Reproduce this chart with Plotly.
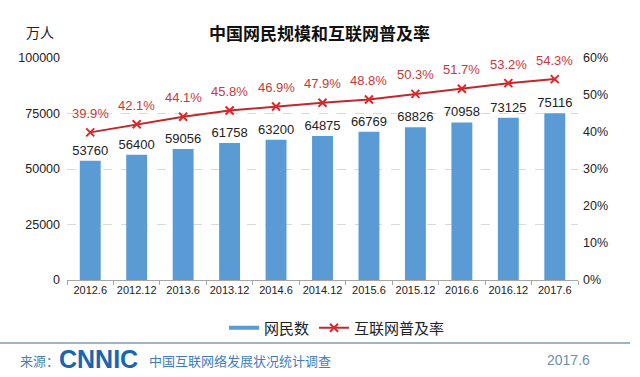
import plotly.graph_objects as go

categories = ["2012.6", "2012.12", "2013.6", "2013.12", "2014.6", "2014.12",
              "2015.6", "2015.12", "2016.6", "2016.12", "2017.6"]
users = [53760, 56400, 59056, 61758, 63200, 64875, 66769, 68826, 70958, 73125, 75116]
penetration = [39.9, 42.1, 44.1, 45.8, 46.9, 47.9, 48.8, 50.3, 51.7, 53.2, 54.3]
left_ticks = [0, 25000, 50000, 75000, 100000]
right_ticks = [0, 10, 20, 30, 40, 50, 60]

FONT = "Liberation Sans, Arial, Noto Sans CJK SC, sans-serif"
CJK = "Noto Sans CJK SC, Liberation Sans, sans-serif"
BLUE = "#5B9BD5"
LINE_RED = "#C0282E"
MARK_RED = "#E02626"
TXT_RED = "#C8383C"

fig = go.Figure()

fig.add_trace(go.Bar(
    x=categories, y=users, marker=dict(color=BLUE, line=dict(width=0)),
    text=[str(v) for v in users], textposition="outside", constraintext="none",
    textfont=dict(size=13, color="#222", family=FONT),
    cliponaxis=False, showlegend=False, yaxis="y",
))
# legend proxy for bars (line swatch as in reference)
fig.add_trace(go.Scatter(
    x=[None], y=[None], mode="lines", name="网民数",
    line=dict(color=BLUE, width=4), yaxis="y",
))
fig.add_trace(go.Scatter(
    x=categories, y=penetration, mode="lines+markers", name="互联网普及率",
    line=dict(color=LINE_RED, width=2),
    marker=dict(symbol="x-thin", size=8, line=dict(color=MARK_RED, width=2), color=MARK_RED),
    yaxis="y2", cliponaxis=False,
))

for i, p in enumerate(penetration):
    fig.add_annotation(x=i, y=p, xref="x", yref="y2", text=f"{p:.1f}%",
                       showarrow=False, yshift=19,
                       font=dict(size=13, color=TXT_RED, family=FONT))

fig.update_layout(
    width=640, height=377,
    margin=dict(l=67, r=62, t=58, b=97, autoexpand=False),
    paper_bgcolor="white", plot_bgcolor="white",
    bargap=0.55,
    xaxis=dict(type="category", showgrid=False, showline=True, linecolor="#A6A6A6",
               linewidth=1, ticks="outside", tickson="boundaries", ticklen=4,
               tickcolor="#A6A6A6", tickfont=dict(size=11, color="#222", family=FONT),
               tickangle=0, automargin=False, range=[-0.5, 10.5]),
    yaxis=dict(range=[0, 100000], tickvals=left_ticks,
               ticktext=[str(v) for v in left_ticks],
               showgrid=True, gridcolor="#D9D9D9", griddash="dash", gridwidth=1,
               zeroline=False, showline=False, ticks="", automargin=False,
               ticklabelstandoff=6,
               tickfont=dict(size=12.5, color="#222", family=FONT)),
    yaxis2=dict(range=[0, 60], tickvals=right_ticks,
                ticktext=[f"{v}%" for v in right_ticks],
                overlaying="y", side="right", showgrid=False, zeroline=False,
                showline=False, ticks="", ticklabelstandoff=4, automargin=False,
                tickfont=dict(size=12.5, color="#222", family=FONT)),
    legend=dict(orientation="h", x=(337 - 67) / 511, xanchor="center",
                y=(280 - 328) / 222, yanchor="middle",
                font=dict(size=15, color="#222", family=CJK),
                itemwidth=30, bgcolor="rgba(0,0,0,0)"),
)

def px(xp):
    return (xp - 67) / 511

def py(yp):
    return (280 - yp) / 222

fig.add_annotation(x=px(319), y=py(32), xref="paper", yref="paper",
                   text="<b>中国网民规模和互联网普及率</b>",
                   showarrow=False, xanchor="center", yanchor="middle",
                   font=dict(size=17, color="#111", family=CJK))
fig.add_annotation(x=px(40), y=py(32), xref="paper", yref="paper", text="万人",
                   showarrow=False, xanchor="center", yanchor="middle",
                   font=dict(size=14, color="#222", family=CJK))

fig.add_shape(type="line", xref="paper", yref="paper",
              x0=px(0), x1=px(630), y0=py(343), y1=py(343),
              line=dict(color="#7F9BB5", width=1.5))

fig.add_annotation(x=px(18), y=py(360), xref="paper", yref="paper", text="来源：",
                   showarrow=False, xanchor="left", yanchor="middle",
                   font=dict(size=13, color="#4F7FB0", family=CJK))
fig.add_annotation(x=px(57), y=py(359), xref="paper", yref="paper", text="<b>CNNIC</b>",
                   showarrow=False, xanchor="left", yanchor="middle",
                   font=dict(size=25, color="#1B64B0", family="Liberation Sans, Arial"))
fig.add_annotation(x=px(147), y=py(360), xref="paper", yref="paper",
                   text="中国互联网络发展状况统计调查",
                   showarrow=False, xanchor="left", yanchor="middle",
                   font=dict(size=13, color="#3F7EC0", family=CJK))
fig.add_annotation(x=px(545), y=py(360), xref="paper", yref="paper", text="2017.6",
                   showarrow=False, xanchor="left", yanchor="middle",
                   font=dict(size=14, color="#6E8DAE", family=FONT))

fig.write_html("out.html", config={"displayModeBar": False},
               post_script="document.body.style.margin='0px';document.body.style.overflow='hidden';")
